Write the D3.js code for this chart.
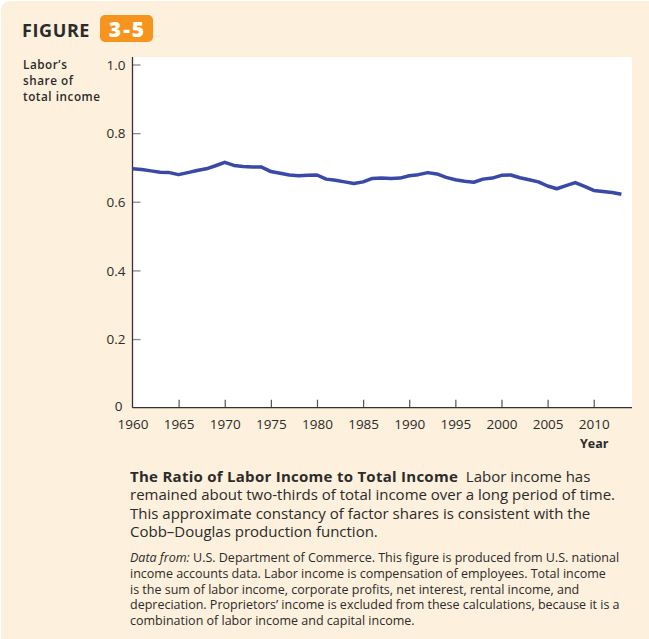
<!DOCTYPE html>
<html><head><meta charset="utf-8">
<script src="https://cdn.jsdelivr.net/npm/d3@7"></script>
<style>
html,body{margin:0;padding:0;background:#fff;}
svg{display:block;}
text{font-family:"Open Sans",sans-serif;fill:#2b2b2b;}
</style></head>
<body>
<svg id="c" width="649" height="639"></svg>
<script>
const years = d3.range(1960, 2014);
const laborShare = [
 0.696,0.694,0.690,0.686,0.685,0.679,0.685,0.691,0.696,0.705,
 0.715,0.706,0.703,0.701,0.701,0.688,0.683,0.678,0.676,0.677,
 0.678,0.666,0.663,0.658,0.653,0.658,0.668,0.669,0.668,0.669,
 0.676,0.679,0.685,0.681,0.671,0.664,0.660,0.657,0.666,0.669,
 0.677,0.678,0.670,0.664,0.658,0.646,0.638,0.647,0.656,0.645,
 0.633,0.630,0.627,0.622];
const yTicks = [0, 0.2, 0.4, 0.6, 0.8, 1.0];
const yTickLabels = ["0","0.2","0.4","0.6","0.8","1.0"];
const xTicks = [1960,1965,1970,1975,1980,1985,1990,1995,2000,2005,2010];
const yAxisLabel = ["Labor\u2019s","share of","total income"];
const captionBold = "The Ratio of Labor Income to Total Income";
const captionLines = [
 [captionBold, "  Labor income has"],
 ["", "remained about two-thirds of total income over a long period of time."],
 ["", "This approximate constancy of factor shares is consistent with the"],
 ["", "Cobb\u2013Douglas production function."]
];
const sourceLines = [
 ["Data from:", " U.S. Department of Commerce. This figure is produced from U.S. national"],
 ["", "income accounts data. Labor income is compensation of employees. Total income"],
 ["", "is the sum of labor income, corporate profits, net interest, rental income, and"],
 ["", "depreciation. Proprietors\u2019 income is excluded from these calculations, because it is a"],
 ["", "combination of labor income and capital income."]
];

const svg = d3.select("#c");
svg.append("path")
  .attr("d", "M1,12 Q1,1 12,1 L649,1 L649,639 L1,639 Z")
  .attr("fill", "#fdf0dc");

svg.append("text").attr("x", 22).attr("y", 37).attr("font-size", 18).attr("font-weight", 700)
  .attr("letter-spacing", 0.6).text("FIGURE");
svg.append("rect").attr("x", 100).attr("y", 15).attr("width", 53).attr("height", 27).attr("rx", 5)
  .attr("fill", "#f7941d");
svg.append("text").attr("x", 127.5).attr("y", 36.5).attr("text-anchor", "middle").attr("font-size", 21)
  .attr("font-weight", 800).style("fill", "#fff").attr("letter-spacing", 2).text("3-5");

const x = d3.scaleLinear().domain([1960, 2014.15]).range([132.5, 632]);
const y = d3.scaleLinear().domain([0, 1]).range([407.7, 64.5]);

svg.append("rect").attr("x", x(1960)).attr("y", y(1.022))
  .attr("width", x(2014.15) - x(1960)).attr("height", y(0) - y(1.022)).attr("fill", "#fff");

const yAxis = d3.axisRight(y).tickValues(yTicks).tickSize(8).tickFormat((d, i) => yTickLabels[i]);
const gy = svg.append("g").attr("transform", `translate(${x(1960)},0)`).call(yAxis);
gy.select(".domain").remove();
gy.selectAll(".tick line").attr("stroke", "#8a8a8a").attr("stroke-width", 1.3);
gy.selectAll(".tick text").attr("x", -7).attr("text-anchor", "end").attr("font-size", 13.5)
  .attr("dy", "0.35em").style("font-family", "'Open Sans', sans-serif").style("fill", "#2b2b2b");
gy.selectAll(".tick").filter(d => d === 0).select("line").remove();
gy.selectAll(".tick").filter(d => d === 0).select("text").attr("x", -10).attr("dy", "0.2em");
svg.append("line").attr("x1", x(1960)).attr("x2", x(1960)).attr("y1", y(1.022)).attr("y2", y(0))
  .attr("stroke", "#333").attr("stroke-width", 1.3);

const xAxis = d3.axisBottom(x).tickValues(xTicks).tickSize(-8).tickFormat(d3.format("d"));
const gx = svg.append("g").attr("transform", `translate(0,${y(0)})`).call(xAxis);
gx.select(".domain").remove();
gx.selectAll(".tick line").attr("stroke", "#555").attr("stroke-width", 1.2);
gx.selectAll(".tick").filter(d => d === 1960).select("line").remove();
gx.selectAll(".tick text").attr("y", 21.5).attr("dy", 0).attr("font-size", 13.5)
  .style("font-family", "'Open Sans', sans-serif").style("fill", "#2b2b2b");
svg.append("line").attr("x1", x(1960)).attr("x2", x(2014.15)).attr("y1", y(0)).attr("y2", y(0))
  .attr("stroke", "#333").attr("stroke-width", 1.3);

const line = d3.line().x((d, i) => x(years[i])).y(d => y(d));
svg.append("path").datum(laborShare).attr("d", line).attr("fill", "none")
  .attr("stroke", "#3a48a6").attr("stroke-width", 3.5).attr("stroke-linejoin", "round");

yAxisLabel.forEach((d, i) => {
  svg.append("text").attr("x", 23).attr("y", 69 + i * 16).attr("font-size", 11.7)
    .attr("font-weight", 600).attr("letter-spacing", 0.55).text(d);
});

svg.append("text").attr("x", 580).attr("y", 448).attr("font-size", 12.5).attr("font-weight", 700).text("Year");

captionLines.forEach((l, i) => {
  const t = svg.append("text").attr("x", 130).attr("y", 482 + i * 18.3).attr("font-size", 15);
  if (l[0]) t.append("tspan").attr("font-weight", 700).attr("letter-spacing", 0.27).text(l[0]);
  t.append("tspan").attr("letter-spacing", 0).style("white-space", "pre").text(l[1]);
});

sourceLines.forEach((l, i) => {
  const t = svg.append("text").attr("x", 130).attr("y", 562 + i * 15.8).attr("font-size", 12.5);
  if (l[0]) t.append("tspan").attr("font-style", "italic").text(l[0]);
  t.append("tspan").style("white-space", "pre").text(l[1]);
});
</script>
</body></html>
